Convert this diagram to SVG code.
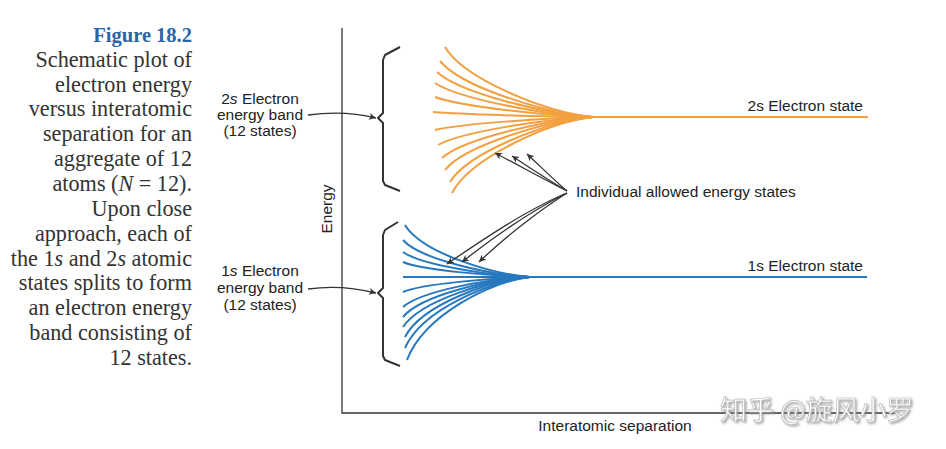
<svg xmlns="http://www.w3.org/2000/svg" width="946" height="449" viewBox="0 0 946 449">
<style>
.cap{font-family:"Liberation Serif","Times New Roman",serif;font-size:22.2px;fill:#333;text-anchor:end}
.fig{font-family:"Liberation Serif","Times New Roman",serif;font-size:20.5px;font-weight:bold;fill:#2b64a8;text-anchor:end}
.lbl{font-family:"Liberation Sans",Arial,sans-serif;font-size:15.5px;fill:#222}
.mid{text-anchor:middle}
.end{text-anchor:end}
.brace{fill:none;stroke:#333;stroke-width:2;stroke-linejoin:round}
.axis{fill:none;stroke:#333;stroke-width:1.3}
.or{fill:none;stroke:#f2a040;stroke-width:2}
.bl{fill:none;stroke:#2878be;stroke-width:2}
.ptr{fill:none;stroke:#333;stroke-width:1.3;marker-end:url(#ah)}
.wm{font-family:"Noto Sans CJK SC","Liberation Sans",sans-serif;font-size:27px;fill:#fff;stroke:#bbb;stroke-width:0.7}
</style>
<defs>
<marker id="ah" markerWidth="8" markerHeight="8" refX="7" refY="4" orient="auto" markerUnits="userSpaceOnUse">
<path d="M0,0.5 L7,4 L0,7.5 L2,4 Z" fill="#333"/>
</marker>
<filter id="sh" x="-10%" y="-30%" width="120%" height="160%">
<feDropShadow dx="1.5" dy="1.5" stdDeviation="0.8" flood-color="#888" flood-opacity="0.8"/>
</filter>
</defs>
<rect width="946" height="449" fill="#fff"/>

<g id="caption">
<text class="fig" x="192" y="42">Figure 18.2</text>
<text class="cap" x="192" y="66.7">Schematic plot of</text>
<text class="cap" x="192" y="91.5">electron energy</text>
<text class="cap" x="192" y="116.4">versus interatomic</text>
<text class="cap" x="192" y="141.2">separation for an</text>
<text class="cap" x="192" y="166">aggregate of 12</text>
<text class="cap" x="192" y="191">atoms (<tspan font-style="italic">N</tspan> = 12).</text>
<text class="cap" x="192" y="215.8">Upon close</text>
<text class="cap" x="192" y="240.6">approach, each of</text>
<text class="cap" x="192" y="265.5">the 1<tspan font-style="italic">s</tspan> and 2<tspan font-style="italic">s</tspan> atomic</text>
<text class="cap" x="192" y="290.4">states splits to form</text>
<text class="cap" x="192" y="315.2">an electron energy</text>
<text class="cap" x="192" y="340">band consisting of</text>
<text class="cap" x="192" y="365">12 states.</text>
</g>

<g id="axes">
<path class="axis" d="M342,28 L342,413 L898,413"/>
<text class="lbl" transform="translate(332,209) rotate(-90)" text-anchor="middle">Energy</text>
<text class="lbl" x="615" y="431" text-anchor="middle">Interatomic separation</text>
</g>

<g id="band2s">
<path class="or" d="M445,47 C464,79 545,112 593,117"/>
<path class="or" d="M440,61 C461,87 545,113 593,117"/>
<path class="or" d="M437,72 C460,93 545,114 593,117"/>
<path class="or" d="M435,83 C459,99 545,115 593,117"/>
<path class="or" d="M435,97 C459,106 545,116 593,117"/>
<path class="or" d="M433,112 C458,114 545,117 593,117"/>
<path class="or" d="M435,130 C459,124 545,118 593,117"/>
<path class="or" d="M438,145 C461,132 545,119 593,117"/>
<path class="or" d="M442,158 C463,139 545,120 593,117"/>
<path class="or" d="M445,170 C464,146 545,121 593,117"/>
<path class="or" d="M450,182 C468,153 545,122 593,117"/>
<path class="or" d="M452,193 C470,159 545,123 593,117"/>
<path class="or" d="M593,117 L868,117"/>
<text class="lbl end" x="863" y="111">2s Electron state</text>
</g>

<g id="band1s">
<path class="bl" d="M405,225 C422,253 492,274 530,277"/>
<path class="bl" d="M403,240 C421,260 492,275 530,277"/>
<path class="bl" d="M403,252 C421,265 492,276 530,277"/>
<path class="bl" d="M403,262 C421,270 492,276 530,277"/>
<path class="bl" d="M403,277 C421,277 492,277 530,277"/>
<path class="bl" d="M403,292 C421,284 492,278 530,277"/>
<path class="bl" d="M403,307 C421,291 492,278 530,277"/>
<path class="bl" d="M403,317 C421,295 492,279 530,277"/>
<path class="bl" d="M403,327 C421,300 492,279 530,277"/>
<path class="bl" d="M405,337 C422,304 492,280 530,277"/>
<path class="bl" d="M405,348 C422,309 492,281 530,277"/>
<path class="bl" d="M407,360 C424,315 492,281 530,277"/>
<path class="bl" d="M530,277 L867,277"/>
<text class="lbl end" x="863" y="271">1s Electron state</text>
</g>

<g id="label2s">
<path class="brace" d="M400,47 L385,55 L383,60 L383,113 L378,118 L383,123 L383,181 L385,185 L400,191"/>
<text class="lbl mid" x="260" y="104">2<tspan font-style="italic">s</tspan> Electron</text>
<text class="lbl mid" x="260" y="120">energy band</text>
<text class="lbl mid" x="260" y="136">(12 states)</text>
</g>

<g id="label1s">
<path class="brace" d="M398,222 L385,230 L383,235 L383,288 L378,293 L383,298 L383,356 L385,360 L400,366"/>
<text class="lbl mid" x="260" y="276">1<tspan font-style="italic">s</tspan> Electron</text>
<text class="lbl mid" x="260" y="293">energy band</text>
<text class="lbl mid" x="260" y="310">(12 states)</text>
</g>

<g id="individual">
<text class="lbl" x="576" y="197">Individual allowed energy states</text>
</g>

<g id="connectors">
<path class="ptr" d="M308,115 C330,112 352,112 376,118"/>
<path class="ptr" d="M308,289 C330,286 352,287 376,293"/>
<path class="ptr" d="M567,191 C545,180 520,166 495,153"/>
<path class="ptr" d="M567,191 C550,181 530,168 512,156"/>
<path class="ptr" d="M567,191 C555,181 540,166 527,154"/>
<path class="ptr" d="M567,193 C530,208 485,238 447,264"/>
<path class="ptr" d="M567,193 C535,209 495,236 462,262"/>
<path class="ptr" d="M567,193 C540,210 505,237 479,262"/>
</g>

<g id="watermark">
<text class="wm" x="720" y="420" filter="url(#sh)">知乎 @旋风小罗</text>
</g>
</svg>
